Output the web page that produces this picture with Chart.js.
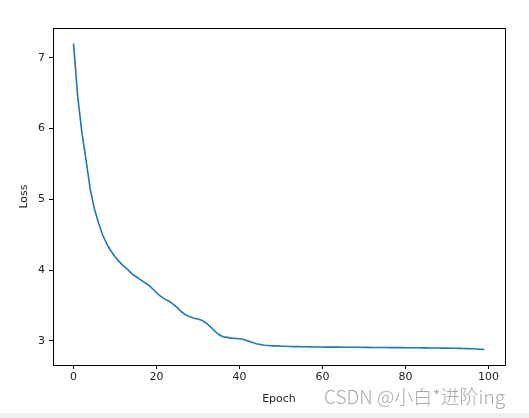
<!DOCTYPE html>
<html>
<head>
<meta charset="utf-8">
<script src="https://cdn.jsdelivr.net/npm/chart.js@4/dist/chart.umd.min.js"></script>
<style>
  body { margin: 0; background: #fff; }
  #wrap { position: relative; width: 529px; height: 418px; }
  canvas { display: block; }
  #mark { position: absolute; left: 324px; top: 382px; font-family: "Noto Sans CJK SC", sans-serif; font-size: 19px; font-weight: 300; color: #a8a8a8; white-space: nowrap; line-height: 28px; }
  #strip { position: absolute; left: 0; top: 413px; width: 529px; height: 5px; background: #f0f0f0; }
</style>
</head>
<body>
<div id="wrap">
  <canvas id="chart" width="529" height="418"></canvas>
  <div id="mark">CSDN @小白*进阶ing</div>
  <div id="strip"></div>
</div>
<script>
/***** data *****/
var epochs = [];
for (var i = 0; i < 100; i++) epochs.push(i);

var loss = [
  7.20, 6.45, 5.95, 5.56, 5.15, 4.87, 4.67, 4.50, 4.37, 4.27,
  4.19, 4.12, 4.06, 4.01, 3.95, 3.91, 3.87, 3.83, 3.79, 3.74,
  3.68, 3.63, 3.59, 3.56, 3.52, 3.47, 3.41, 3.37, 3.34, 3.32,
  3.31, 3.29, 3.25, 3.20, 3.14, 3.09, 3.06, 3.05, 3.04, 3.035,
  3.03, 3.02, 3.00, 2.98, 2.96, 2.95, 2.94, 2.935, 2.93, 2.93,
  2.925, 2.925, 2.922, 2.92, 2.92, 2.918, 2.918, 2.916, 2.915, 2.915,
  2.914, 2.913, 2.913, 2.912, 2.912, 2.911, 2.911, 2.91, 2.91, 2.91,
  2.909, 2.909, 2.908, 2.908, 2.907, 2.907, 2.906, 2.906, 2.905, 2.905,
  2.904, 2.904, 2.903, 2.903, 2.902, 2.902, 2.901, 2.90, 2.90, 2.899,
  2.898, 2.897, 2.896, 2.895, 2.893, 2.891, 2.889, 2.886, 2.883, 2.88
];

var xTicks = [0, 20, 40, 60, 80, 100];
var yTicks = [3, 4, 5, 6, 7];

var points = epochs.map(function (e, i) { return { x: e, y: loss[i] }; });

// box around the plot area, like matplotlib spines
var frame = {
  id: 'frame',
  afterDraw: function (chart) {
    var a = chart.chartArea, ctx = chart.ctx;
    ctx.save();
    ctx.strokeStyle = '#000';
    ctx.lineWidth = 1;
    ctx.strokeRect(Math.round(a.left) + 0.5, Math.round(a.top) + 0.5,
      Math.round(a.right - a.left), Math.round(a.bottom - a.top));
    ctx.restore();
  }
};

var font = { family: 'DejaVu Sans', size: 11 };

new Chart(document.getElementById('chart'), {
  type: 'line',
  data: {
    datasets: [{
      data: points,
      borderColor: '#1f77b4',
      borderWidth: 1.6,
      pointRadius: 0,
      tension: 0,
      fill: false
    }]
  },
  options: {
    responsive: false,
    animation: false,
    layout: { padding: { top: 28, right: 24, left: 0, bottom: 0 } },
    plugins: { legend: { display: false }, tooltip: { enabled: false } },
    scales: {
      x: {
        type: 'linear',
        min: -4.95,
        max: 103.95,
        afterBuildTicks: function (s) { s.ticks = xTicks.map(function (v) { return { value: v }; }); },
        afterFit: function (s) { s.height = 53; },
        grid: { drawOnChartArea: false, drawTicks: true, tickLength: 4, color: '#000' },
        border: { display: false },
        ticks: { color: '#222', font: font, padding: 2, maxRotation: 0 },
        title: { display: true, text: 'Epoch', color: '#222', font: font, padding: { top: 2, bottom: 12 } }
      },
      y: {
        type: 'linear',
        min: 2.66,
        max: 7.42,
        afterBuildTicks: function (s) { s.ticks = yTicks.map(function (v) { return { value: v }; }); },
        afterFit: function (s) { s.width = 53; },
        grid: { drawOnChartArea: false, drawTicks: true, tickLength: 4, color: '#000' },
        border: { display: false },
        ticks: { color: '#222', font: font, padding: 4 },
        title: { display: true, text: 'Loss', color: '#222', font: font, padding: { top: 18, bottom: 0 } }
      }
    }
  },
  plugins: [frame]
});
</script>
</body>
</html>
